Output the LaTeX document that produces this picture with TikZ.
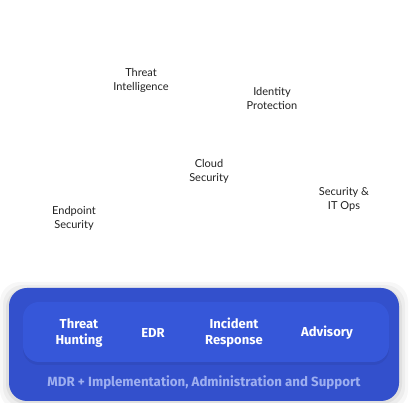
\documentclass[tikz,border=0pt]{standalone}
\usepackage{fontspec}
\setmainfont{Lato}
\newfontfamily\boxfont{Fira Sans}
\definecolor{outerblue}{HTML}{3350CC}
\definecolor{innerblue}{HTML}{3657D9}
\definecolor{paleblue}{HTML}{9EAFF0}
\definecolor{labelgray}{HTML}{222222}
\tikzset{
  area/.style={font=\fontsize{11}{14}\selectfont, text=labelgray, align=center},
  service/.style={font=\boxfont\bfseries\fontsize{13}{16}\selectfont, text=white, align=center},
}
\begin{document}
\begin{tikzpicture}[x=1pt,y=-1pt]
  % Canvas
  \useasboundingbox (0,0) rectangle (413,403);
  \fill[white] (0,0) rectangle (413,403);

  % Soft shadow round the outer panel
  \foreach \s/\o in {9/0.03,6/0.04,3/0.05}
    \fill[black,opacity=\o,rounded corners=20pt] (9-\s,288-\s+3) rectangle (399+\s,401+\s);

  % Outer panel and inner band
  \fill[outerblue,rounded corners=18pt] (9,288) rectangle (399,401);
  \fill[black,opacity=0.06,rounded corners=16pt] (23,304) rectangle (389,365);
  \fill[innerblue,rounded corners=16pt] (23,302) rectangle (389,362);

  % Areas above the panel
  \node[area] (intel)    at (141,80)  {Threat\\Intelligence};
  \node[area] (identity) at (272,98)  {Identity\\Protection};
  \node[area] (cloud)    at (209,171) {Cloud\\Security};
  \node[area] (itops)    at (344,199) {Security \&\\IT Ops};
  \node[area] (endpoint) at (74,218)  {Endpoint\\Security};

  % Services in the band
  \node[service] (hunting)  at (79,333)  {Threat\\Hunting};
  \node[service] (edr)      at (153,333) {EDR};
  \node[service] (incident) at (234,333) {Incident\\Response};
  \node[service] (advisory) at (327,333) {Advisory};

  % Panel caption
  \node[font=\boxfont\bfseries\fontsize{13.3}{16}\selectfont, text=paleblue] (mdr) at (204,383)
    {MDR + Implementation, Administration and Support};
\end{tikzpicture}
\end{document}
